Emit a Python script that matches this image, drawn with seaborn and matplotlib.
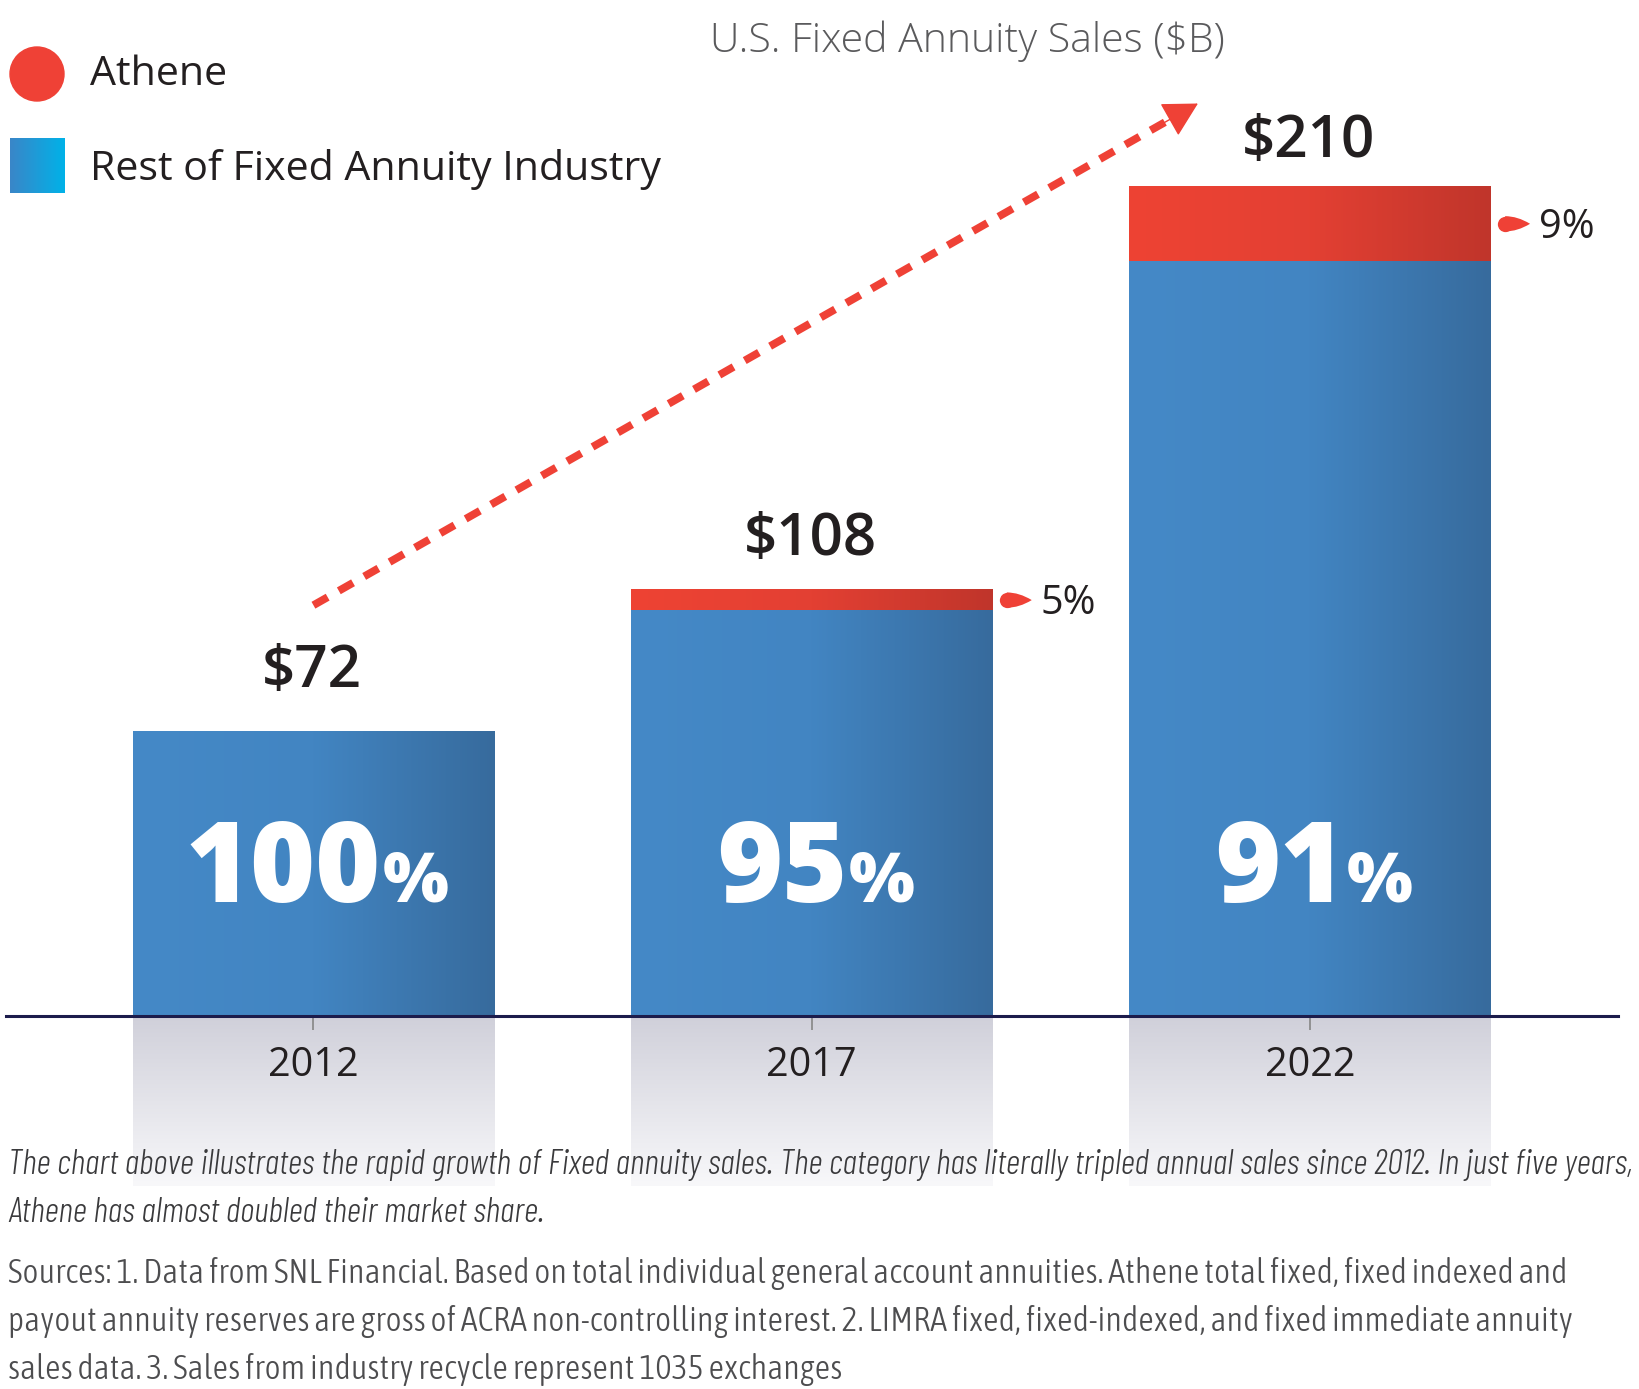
#!/usr/bin/env python3
#
# U.S. fixed annuity sales: Athene vs the rest of the industry
#
import numpy as np
import pandas as pd
import matplotlib
matplotlib.use('Agg')
import matplotlib.pyplot as plt
import seaborn as sns
from matplotlib import font_manager
from matplotlib.colors import LinearSegmentedColormap
from matplotlib.patches import Ellipse


# Data
years = ['2012', '2017', '2022']
total_sales = [72, 108, 210]        # $B
athene_share = [0, 5, 9]            # percent of total

title = 'U.S. Fixed Annuity Sales ($B)'
legend_labels = ['Athene', 'Rest of Fixed Annuity Industry']
caption_lines = [
    'The chart above illustrates the rapid growth of Fixed annuity sales. '
    'The category has literally tripled annual sales since 2012. In just five years,',
    'Athene has almost doubled their market share.',
]
source_lines = [
    'Sources: 1. Data from SNL Financial. Based on total individual general account '
    'annuities. Athene total fixed, fixed indexed and',
    'payout annuity reserves are gross of ACRA non-controlling interest. 2. LIMRA fixed, '
    'fixed-indexed, and fixed immediate annuity',
    'sales data. 3. Sales from industry recycle represent 1035 exchanges',
]

df = pd.DataFrame({'year': years, 'total': total_sales, 'share': athene_share})
df['rest'] = df['total'] * (100 - df['share']) / 100
df['rest_pct'] = 100 - df['share']


#
# Fonts: take what is installed
#
def weight_of(f):
    w = f.weight
    if isinstance(w, str):
        w = font_manager.weight_dict.get(w, 400)
    return int(w)


def pick(names, min_weight=0):
    for n in names:
        for f in font_manager.fontManager.ttflist:
            if f.name == n and weight_of(f) >= min_weight:
                return n
    return 'DejaVu Sans'


def narrow_props(italic):
    # Thin narrow face for the notes: style first, then weight
    best, best_score = None, None
    for f in font_manager.fontManager.ttflist:
        if not any(k in f.name for k in ('Condensed', 'Narrow')):
            continue
        score = (
            0 if (f.style != 'normal') == italic else 1,
            0 if weight_of(f) <= 400 else 1,
            1 if 'Semi' in f.name else 0,
            0 if 'Open Sans' in f.name else 1,
            abs(weight_of(f) - 300),
        )
        if best_score is None or score < best_score:
            best, best_score = f, score
    if best is None or best_score[1] == 1:
        return font_manager.FontProperties(
            family=main_font, style='italic' if italic else 'normal',
            weight='light')
    return font_manager.FontProperties(fname=best.fname)


main_font = pick(['Open Sans', 'Lato', 'Roboto'])
heavy_font = pick(['Open Sans', 'Open Sans ExtraBold', 'Lato', 'Roboto'], 700)


# Styles
W, H = 1639, 1389
dark = '#231F20'
red = '#EF4136'
navy = '#1C1C4C'
blue_cmap = LinearSegmentedColormap.from_list('b', ['#4589C7', '#4285C2', '#376B9D'])
red_cmap = LinearSegmentedColormap.from_list('r', ['#EE4334', '#E34033', '#C0352B'])
legend_cmap = LinearSegmentedColormap.from_list('l', ['#3A86C8', '#00B2E8'])
shadow_cmap = LinearSegmentedColormap.from_list('s', ['#D0D0DA', '#F8F8FA'])
bar_width = 0.725
reflect_depth = 43
label_gap_pt = [32, 24.5, 21]
big_y = 29

hgrad = np.linspace(0, 1, 256).reshape(1, -1)
vgrad = np.linspace(0, 1, 256).reshape(-1, 1)


#
# Create figure
#
sns.set_theme(style='white')
plt.rcParams['font.family'] = [main_font, 'DejaVu Sans']

fig = plt.figure(figsize=(W / 100, H / 100), dpi=100)
ax = fig.add_axes([6 / W, 0, 1612 / W, 1])

sns.barplot(data=df, x='year', y='total', color=red, width=bar_width,
            saturation=1, errorbar=None, ax=ax)
sns.barplot(data=df, x='year', y='rest', color='#4589C7', width=bar_width,
            saturation=1, errorbar=None, ax=ax)
n = len(years)
red_bars = list(ax.patches[:n])
blue_bars = list(ax.patches[n:2 * n])

# Gradient fills over the bars
for bars, cmap, z in [(red_bars, red_cmap, 2), (blue_bars, blue_cmap, 3)]:
    for p in bars:
        x0, y0, w, h = p.get_x(), p.get_y(), p.get_width(), p.get_height()
        p.set_edgecolor('none')
        ax.imshow(hgrad, cmap=cmap, extent=[x0, x0 + w, y0, y0 + h],
                  aspect='auto', zorder=z, interpolation='bicubic')

# Floor reflection
for p in blue_bars:
    x0, w = p.get_x(), p.get_width()
    ax.imshow(vgrad, cmap=shadow_cmap, extent=[x0, x0 + w, -reflect_depth, 0],
              aspect='auto', zorder=0.5, interpolation='bicubic')

ax.set_xlim(-0.617, 2.618)
ax.set_ylim(-94.4, 257.2)
for s in ['left', 'top', 'right']:
    ax.spines[s].set_visible(False)
ax.spines['bottom'].set_position(('data', 0))
ax.spines['bottom'].set_color(navy)
ax.spines['bottom'].set_linewidth(2.2)
ax.spines['bottom'].set_zorder(6)
ax.set_yticks([])
ax.tick_params(axis='x', bottom=True, direction='out', length=10, width=1.3,
               color='#8C8C8C', pad=11, labelsize=28.5, labelcolor=dark)
ax.set_xlabel('')
ax.set_ylabel('')

# Totals above the bars
for i, p in enumerate(red_bars):
    cx = p.get_x() + p.get_width() / 2
    ax.annotate('$' + str(total_sales[i]), xy=(cx, total_sales[i]),
                xytext=(-1, label_gap_pt[i]), textcoords='offset points',
                ha='center', va='baseline', fontsize=42, fontweight='semibold',
                color=dark, zorder=7)

# Athene share pointers
for i, p in enumerate(red_bars):
    if athene_share[i] == 0:
        continue
    y_mid = (df['rest'][i] + total_sales[i]) / 2
    xr = p.get_x() + p.get_width()
    ax.plot(xr + 0.029, y_mid, 'o', ms=11, color=red, mec='none', zorder=7)
    ax.annotate('', xy=(xr + 0.079, y_mid), xytext=(xr + 0.029, y_mid),
                arrowprops=dict(arrowstyle='wedge,tail_width=0.55,shrink_factor=0.75',
                                color=red, lw=0, mutation_scale=20,
                                shrinkA=0, shrinkB=0), zorder=7)
    ax.annotate(str(athene_share[i]) + '%', xy=(xr + 0.097, y_mid),
                xytext=(0, -3), textcoords='offset points', ha='left',
                va='center', fontsize=28.5, color=dark, zorder=7)

# Growth arrow
start = np.array([0.0, total_sales[0] + 32])
end = np.array([1.775, total_sales[-1] + 21])
base = start + 0.965 * (end - start)
ax.plot([start[0], base[0]], [start[1], base[1]], color=red, lw=5.6,
        ls=(0, (2.1, 1.65)), zorder=7)
ax.annotate('', xy=end, xytext=start + 0.95 * (end - start),
            arrowprops=dict(arrowstyle='-|>,head_length=0.55,head_width=0.3',
                            mutation_scale=40, color=red, lw=1,
                            shrinkA=0, shrinkB=0), zorder=7)

# Big white percentages inside the bars
renderer = fig.canvas.get_renderer()
inv = ax.transData.inverted()
for i, p in enumerate(blue_bars):
    cx = p.get_x() + p.get_width() / 2
    num = ax.text(cx, big_y, str(int(df['rest_pct'][i])), fontsize=80,
                  fontweight='heavy', family=[heavy_font, 'DejaVu Sans'],
                  color='white', ha='left', va='baseline', zorder=8)
    pct = ax.text(cx, big_y, '%', fontsize=50, fontweight='heavy',
                  family=[heavy_font, 'DejaVu Sans'], color='white',
                  ha='left', va='baseline', zorder=8)
    w1 = num.get_window_extent(renderer).width
    w2 = pct.get_window_extent(renderer).width
    px, py = ax.transData.transform((cx, big_y))
    left = px - (w1 + w2) / 2 + 3
    num.set_position(inv.transform((left, py)))
    pct.set_position(inv.transform((left + w1 + 2, py)))

#
# Overlay in pixel coordinates: title, legend, notes
#
ov = fig.add_axes([0, 0, 1, 1])
ov.axis('off')
ov.text(967, 41, title, ha='center', va='center', fontsize=29.5,
        fontweight='light', color='#5A5A5C')
ov.add_patch(Ellipse((37, 74), 54, 54, color=red))
ov.imshow(hgrad, cmap=legend_cmap, extent=[9.5, 64, 193, 138], aspect='auto')
ov.text(90, 75, legend_labels[0], va='center', ha='left', fontsize=29.6, color=dark)
ov.text(90, 169, legend_labels[1], va='center', ha='left', fontsize=29.6, color=dark)
ov.set_xlim(0, W)
ov.set_ylim(H, 0)

cap_font = narrow_props(italic=True)
src_font = narrow_props(italic=False)
caps = [ov.text(8, y, line, ha='left', va='center', fontproperties=cap_font,
                color='#3A3A3C') for y, line in zip([1165, 1213], caption_lines)]
srcs = [ov.text(8, y, line, ha='left', va='center', fontproperties=src_font,
                color='#4D4D4F') for y, line in zip([1274, 1322, 1370], source_lines)]

# Size the notes so that their longest lines fit the reference widths
for group, target in [(caps, 1623), (srcs, 1563)]:
    for t in group:
        t.set_fontsize(25)
    w = group[0].get_window_extent(renderer).width
    size = min(26, 25 * target / w)
    for t in group:
        t.set_fontsize(size)

plt.savefig('out.png', dpi=100)
